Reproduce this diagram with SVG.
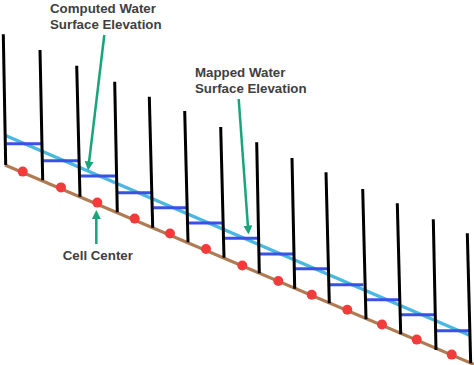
<svg xmlns="http://www.w3.org/2000/svg" width="474" height="365" viewBox="0 0 474 365">
<style>
.txt{font-family:"Liberation Sans",Arial,sans-serif;font-weight:bold;font-size:13.3px;fill:#404040}
.post{stroke:#000;stroke-width:3;stroke-linecap:butt}
.mwse{stroke:#3b50e6;stroke-width:3}
.dot{fill:#f23c3c}
.ldr{stroke:#19a47a;stroke-width:2.5;fill:none;marker-end:url(#ah)}
</style>
<defs>
<marker id="ah" viewBox="0 0 10 10" refX="6.7" refY="5" markerWidth="9" markerHeight="9" markerUnits="userSpaceOnUse" orient="auto">
<path d="M0,0 L10,5 L0,10 z" fill="#19a47a"/>
</marker>
</defs>
<rect width="474" height="365" fill="#fff"/>
<g id="ground">
<line x1="5" y1="165" x2="474" y2="364.5" stroke="#b07a52" stroke-width="3"/>
</g>
<g id="computed-wse">
<line x1="5.5" y1="135.5" x2="470" y2="335.5" stroke="#4ab8e0" stroke-width="3.5"/>
</g>
<g id="mapped-wse">
<line class="mwse" x1="6.7" y1="143.7" x2="41.7" y2="143.7"/>
<line class="mwse" x1="43.3" y1="160.7" x2="78.3" y2="160.7"/>
<line class="mwse" x1="80.7" y1="176" x2="116" y2="176"/>
<line class="mwse" x1="117.3" y1="192.7" x2="151.7" y2="192.7"/>
<line class="mwse" x1="153.3" y1="207.7" x2="186.7" y2="207.7"/>
<line class="mwse" x1="188.3" y1="223" x2="222.7" y2="223"/>
<line class="mwse" x1="225" y1="238.3" x2="258.3" y2="238.3"/>
<line class="mwse" x1="260" y1="254" x2="294" y2="254"/>
<line class="mwse" x1="295" y1="268.7" x2="329" y2="268.7"/>
<line class="mwse" x1="330" y1="284.7" x2="363.3" y2="284.7"/>
<line class="mwse" x1="366" y1="299.7" x2="399.3" y2="299.7"/>
<line class="mwse" x1="400.7" y1="314.7" x2="435" y2="314.7"/>
<line class="mwse" x1="436" y1="330.7" x2="470" y2="330.7"/>
</g>
<g id="cell-faces">
<line class="post" x1="3.3" y1="34.3" x2="5.7" y2="165"/>
<line class="post" x1="40" y1="50" x2="42.7" y2="180.3"/>
<line class="post" x1="76.7" y1="65.7" x2="80" y2="196.7"/>
<line class="post" x1="114.7" y1="81.7" x2="117.3" y2="212.3"/>
<line class="post" x1="149.3" y1="96.7" x2="152.7" y2="227.7"/>
<line class="post" x1="184.7" y1="111" x2="188" y2="242.3"/>
<line class="post" x1="220.7" y1="127" x2="224" y2="257.7"/>
<line class="post" x1="256.7" y1="142.3" x2="259.3" y2="273.3"/>
<line class="post" x1="292" y1="158" x2="294.7" y2="288.7"/>
<line class="post" x1="326" y1="172.3" x2="329.3" y2="303.3"/>
<line class="post" x1="362.7" y1="189" x2="366" y2="319.3"/>
<line class="post" x1="397.3" y1="203.3" x2="400.7" y2="334.3"/>
<line class="post" x1="433.3" y1="219.3" x2="436" y2="350"/>
<line class="post" x1="467.3" y1="233.3" x2="470.7" y2="363.3"/>
</g>
<g id="cell-centers">
<circle class="dot" cx="22.7" cy="171.6" r="5"/>
<circle class="dot" cx="61" cy="187.4" r="5"/>
<circle class="dot" cx="97.3" cy="202.6" r="5"/>
<circle class="dot" cx="134.7" cy="218.6" r="5"/>
<circle class="dot" cx="170" cy="233.5" r="5"/>
<circle class="dot" cx="206" cy="249" r="5"/>
<circle class="dot" cx="242.3" cy="265.5" r="5"/>
<circle class="dot" cx="278.3" cy="281" r="5"/>
<circle class="dot" cx="311.7" cy="294.8" r="5"/>
<circle class="dot" cx="347.3" cy="309.8" r="5"/>
<circle class="dot" cx="382" cy="324.5" r="5"/>
<circle class="dot" cx="416.7" cy="339.6" r="5"/>
<circle class="dot" cx="451.7" cy="354.6" r="5"/>
</g>
<g id="connectors">
<line class="ldr" x1="104.3" y1="35" x2="88.4" y2="167.5"/>
<line class="ldr" x1="238.7" y1="99" x2="248.3" y2="231.5"/>
<line class="ldr" x1="96.3" y1="244" x2="96.3" y2="213"/>
</g>
<g id="label-computed">
<text class="txt" x="50" y="12.5">Computed Water</text>
<text class="txt" x="50" y="28.5">Surface Elevation</text>
</g>
<g id="label-mapped">
<text class="txt" x="195" y="77">Mapped Water</text>
<text class="txt" x="195" y="93">Surface Elevation</text>
</g>
<g id="label-cell">
<text class="txt" x="62.7" y="260">Cell Center</text>
</g>
</svg>
